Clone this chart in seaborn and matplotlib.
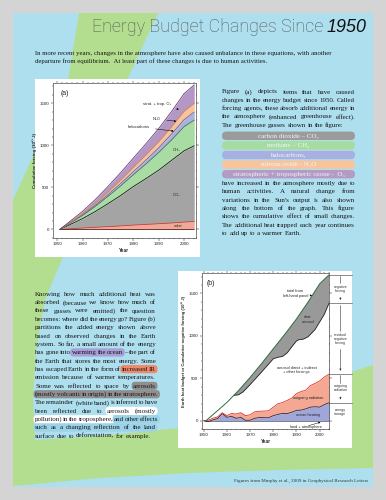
import matplotlib
matplotlib.use("Agg")
import matplotlib.pyplot as plt
import matplotlib.transforms as mtrans
from matplotlib.patches import Polygon, Rectangle, FancyBboxPatch
from matplotlib.font_manager import FontProperties
from matplotlib.ticker import MultipleLocator
import numpy as np
import pandas as pd
import seaborn as sns

W, H = 386, 500

# panel (a): cumulative forcing of each agent, 10^21 J (stacked bottom -> top)
years_a = [1951, 1955, 1960, 1965, 1970, 1975, 1980, 1985, 1990, 1995, 2000, 2004]
solar = [0, 8, 17, 26, 33, 42, 52, 60, 68, 77, 88, 96]
co2 = [0, 49, 112, 187, 273, 361, 458, 545, 637, 743, 847, 899]
ch4 = [0, 16, 37, 60, 87, 115, 140, 175, 210, 242, 287, 305]
halocarbons = [0, 4, 8, 14, 20, 28, 36, 45, 55, 70, 83, 96]
n2o = [0, 5, 12, 21, 30, 40, 51, 62, 73, 86, 100, 104]
ozone = [0, 13, 29, 47, 67, 89, 111, 133, 157, 182, 210, 220]

# panel (b): earth heat budget, 10^21 J
years_b = [1950, 1952, 1954, 1956, 1958, 1960, 1962, 1964, 1966, 1968, 1970, 1972, 1974, 1976,
           1978, 1980, 1982, 1984, 1986, 1988, 1990, 1992, 1994, 1996, 1998, 2000, 2002, 2004]
ocean_heating = [0, -10, 10, 25, 85, 40, 52, 28, 40, 5, 6, 28, 38, 36,
                 35, 60, 75, 86, 85, 100, 122, 125, 140, 160, 165, 160, 190, 212]
outgoing_top = [0, 5, 30, 45, 95, 60, 85, 80, 95, 60, 70, 105, 112, 114,
                118, 160, 200, 215, 240, 268, 320, 345, 360, 415, 440, 470, 515, 550]
strat_years = [1963, 1965, 1967, 1970, 1975, 1980, 1982, 1984, 1986, 1988, 1990, 1991,
               1993, 1995, 1998, 2000, 2002, 2004]
strat_lower = [299, 305, 340, 425, 575, 730, 748, 758, 800, 872, 940, 955,
               962, 990, 1075, 1165, 1255, 1385]

title_main = "Energy Budget Changes Since"
title_year = "1950"
intro_lines = [
    "In more recent years, changes in the atmosphere have also caused unbalance in these equations, with another",
    "departure from equilibrium.  At least part of these changes is due to human activities.",
]
right_lines_1 = [
    "Figure (a) depicts items that have caused",
    "changes in the energy budget since 1950. Called",
    "forcing agents, these absorb additional energy in",
    "the atmosphere (enhanced greenhouse effect).",
    "The greenhouse gasses shown in the figure:",
]
pill_labels = ["carbon dioxide – CO₂", "methane – CH₄", "halocarbons,",
               "nitrous oxide - N₂O", "stratospheric + tropospheric ozone -  O₃"]
pill_colors = ["#9b9b9b", "#a7dca0", "#a9b0e0", "#f7c49c", "#b49bc6"]
right_lines_2 = [
    "have increased in the atmosphere mostly due to",
    "human activities. A natural change from",
    "variations in the Sun's output is also shown",
    "along the bottom of the graph. This figure",
    "shows the cumulative effect of small changes.",
    "The additional heat trapped each year continues",
    "to add up to a warmer Earth.",
]
left_lines = [
    "Knowing how much additional heat was",
    "absorbed (because we know how much of",
    "these gasses were emitted) the question",
    "becomes: where did the energy go? Figure (b)",
    "partitions the added energy shown above",
    "based on observed changes in the Earth",
    "system.  So far, a small amount of the energy",
    "has gone into warming the ocean – the part of",
    "the Earth that stores the most energy.  Some",
    "has escaped Earth in the form of increased IR",
    "emission because of warmer temperatures.",
    "Some was reflected to space by aerosols",
    "(mostly volcanic in origin) in the stratosphere.",
    "The remainder (white band) is inferred to have",
    "been reflected due to aerosols (mostly",
    "pollution) in the troposphere, and other effects",
    "such as a changing reflection of the land",
    "surface due to deforestation, for example.",
]
# (line, first word, last word, colour)
left_marks = [(7, 3, 5, "#a89fd8"), (9, 7, 8, "#f0886b"), (11, 6, 6, "#8f8f8f"),
              (12, 0, 6, "#8f8f8f"), (14, 4, 5, "#ffffff"), (15, 0, 3, "#ffffff"),
              (15, 4, 6, "#9dd3e9"), (16, 0, 7, "#9dd3e9")]
band_labels = ["negative\nforcing", "residual\nnegative\nforcing", "outgoing\nradiation", "energy\nstorage"]
footer = "Figures from Murphy et al., 2009 in Geophysical Research Letters"

sns.set_theme(style="ticks", rc={"axes.linewidth": 0.4, "axes.edgecolor": "#222222"})
plt.rcParams["font.family"] = ["Liberation Sans", "DejaVu Sans"]

BLUE, GREEN, INK = "#aedfee", "#b4de8f", "#151515"
SERIF = ["Liberation Serif", "DejaVu Serif"]
BODY = FontProperties(family="Liberation Serif", size=5.0)
INTRO = FontProperties(family="Liberation Serif", size=4.85)

fig = plt.figure(figsize=(W / 100, H / 100), dpi=100, facecolor="#d4d4d4")
px = mtrans.Affine2D().scale(1, -1).translate(0, H)  # image pixels, y down
renderer = fig.canvas.get_renderer()


def text_w(s, prop=BODY):
    return renderer.get_text_width_height_descent(s, prop, ismath=False)[0]


# poster background
fig.add_artist(Rectangle((13, 13), 360, 474, transform=px, fc=BLUE, ec="none", zorder=-5))
green_pts = [(79, 13), (158, 13), (127, 80), (63, 257), (45, 300), (36, 350), (33, 400),
             (35, 440), (100, 436), (178, 428), (373, 365), (373, 468), (280, 470),
             (190, 473), (100, 478), (13, 486), (13, 200), (68, 80)]
fig.add_artist(Polygon(green_pts, closed=True, transform=px, fc=GREEN, ec="none", zorder=-4))
fig.add_artist(Rectangle((35, 79), 165, 178, transform=px, fc="white", ec="none", zorder=-3))
fig.add_artist(Rectangle((178, 271), 174, 177, transform=px, fc="white", ec="none", zorder=-3))

# title
year_prop = FontProperties(family="Liberation Sans", style="italic", size=12.9)
main_prop = FontProperties(family="Roboto", weight="light", size=12.9)
fig.text(367, 32, title_year, transform=px, fontproperties=year_prop, color="#111111",
         ha="right", va="baseline")
fig.text(367 - text_w(title_year, year_prop) - 4, 32, title_main, transform=px,
         fontproperties=main_prop, color="#555555", ha="right", va="baseline")

for k, line in enumerate(intro_lines):
    fig.text(35, 53.3 + 8.4 * k + 1.8, line, transform=px, fontproperties=INTRO, color=INK,
             ha="left", va="baseline")


def place_lines(lines, x0, x1, y0, dy, marks=()):
    space = text_w("n n") - text_w("nn")
    spans = {}
    for i, line in enumerate(lines):
        words = line.split()
        widths = [text_w(w) for w in words]
        y = y0 + i * dy
        gap = space
        if i < len(lines) - 1 and len(words) > 1:
            gap = max((x1 - x0 - sum(widths)) / (len(words) - 1), 0.4 * space)
        x = x0
        for j, (w, wd) in enumerate(zip(words, widths)):
            fig.text(x, y + 1.8, w, transform=px, fontproperties=BODY, color=INK,
                     ha="left", va="baseline", zorder=6)
            spans[i, j] = (x, x + wd)
            x += wd + gap
    for i, a, b, col in marks:
        xa, xb = spans[i, a][0] - 1.5, spans[i, b][1] + 1.5
        yc = y0 + i * dy
        fig.add_artist(FancyBboxPatch((xa, yc - 4.1), xb - xa, 8.2, transform=px,
                                      boxstyle="round,pad=0,rounding_size=3.5",
                                      fc=col, ec="none", zorder=5))


place_lines(right_lines_1, 222, 355, 91.7, 8.33)
place_lines(right_lines_2, 222, 355, 183.3, 8.33)
place_lines(left_lines, 35, 156, 294, 8.35, marks=left_marks)

for k, (lab, col) in enumerate(zip(pill_labels, pill_colors)):
    yc = 135.8 + k * 9.6
    fig.add_artist(FancyBboxPatch((222, yc - 4.2), 133, 8.4, transform=px,
                                  boxstyle="round,pad=0,rounding_size=4.2",
                                  fc=col, ec="none", zorder=5))
    fig.text(288.5, yc + 1.8, lab, transform=px, family=SERIF, size=5.0, color="#f4f4f4",
             ha="center", va="baseline", zorder=6)

fig.text(368, 482, footer, transform=px, family=SERIF, size=3.6, color="#333333",
         ha="right", va="baseline")


def style_axes(ax):
    ax.xaxis.set_major_locator(MultipleLocator(10))
    ax.xaxis.set_minor_locator(MultipleLocator(2))
    ax.yaxis.set_major_locator(MultipleLocator(500))
    ax.yaxis.set_minor_locator(MultipleLocator(100))
    ax.tick_params(which="both", direction="out", top=True, right=True, width=0.35,
                   labelsize=3.2, pad=1, colors="#222222")
    ax.tick_params(which="major", length=1.8)
    ax.tick_params(which="minor", length=1.0)
    ax.set_facecolor("white")


# ---------- panel (a) ----------
ax_a = fig.add_axes([53.3 / W, 1 - 238.3 / H, 142.2 / W, 155.6 / H])
df_a = pd.DataFrame({"year": years_a, "solar": solar, "CO2": co2, "CH4": ch4,
                     "halocarbons": halocarbons, "N2O": n2o, "O3": ozone})
layers = ["solar", "CO2", "CH4", "halocarbons", "N2O", "O3"]
fills = ["#f2a898", "#a4a4a4", "#a9dca3", "#a9b1e0", "#f8c39a", "#b497c4"]
edges = ["#d9392f", "#1a1a1a", "#3f7f3f", "#5b65b0", "#e0893f", "#6a3d7a"]
tops = df_a[layers].cumsum(axis=1)
ax_a.stackplot(df_a["year"], *[df_a[c] for c in layers], colors=fills, linewidth=0)
for c, ec in zip(layers, edges):
    sns.lineplot(x=df_a["year"], y=tops[c], ax=ax_a, color=ec, linewidth=0.6)
ax_a.hlines(0, years_a[0], years_a[-1], color="#5a2a1a", linewidth=0.6)
ax_a.set_xlim(1948.5, 2004.5)
ax_a.set_ylim(-105, 1745)
style_axes(ax_a)
ax_a.set_xlabel("Year", fontsize=3.4, fontweight="bold", labelpad=1.5)
ax_a.set_ylabel("Cumulative forcing (10²¹ J)", fontsize=3.2, fontweight="bold", labelpad=2)
ax_a.text(1951.5, 1600, "(a)", fontsize=5)
arr = dict(arrowstyle="-|>", lw=0.35, color="black", mutation_scale=2.5)
ax_a.annotate("strat. + trop. O₃", xy=(1999, 1420), xytext=(1989.5, 1490), fontsize=3,
              ha="center", va="center", arrowprops=arr)
ax_a.annotate("N₂O", xy=(1998, 1283), xytext=(1989.2, 1313), fontsize=3,
              ha="center", va="center", arrowprops=arr)
ax_a.annotate("halocarbons", xy=(1997, 1165), xytext=(1982, 1221), fontsize=3,
              ha="center", va="center", arrowprops=arr)
ax_a.text(1997, 944, "CH₄", fontsize=3, ha="center", va="center")
ax_a.text(1997, 408, "CO₂", fontsize=3, ha="center", va="center")
ax_a.text(1997.8, 43, "solar", fontsize=3, ha="center", va="center")

# ---------- panel (b) ----------
ax_b = fig.add_axes([202 / W, 1 - 429.3 / H, 127 / W, 156 / H])
total = tops["O3"].tolist()
ax_b.fill_between(years_b, 0, ocean_heating, color="#9fa7d9", linewidth=0)
ax_b.fill_between(years_b, ocean_heating, outgoing_top, color="#f4a792", linewidth=0)
gx = [strat_years[0]] + [y for y in years_a if y > strat_years[0]]
gy = [strat_lower[0]] + [t for y, t in zip(years_a, total) if y > strat_years[0]]
ax_b.fill(gx + strat_years[::-1], gy + strat_lower[::-1], color="#999999", linewidth=0)
sns.lineplot(x=years_b, y=ocean_heating, ax=ax_b, color="#2e2e50", linewidth=0.6)
sns.lineplot(x=years_b, y=outgoing_top, ax=ax_b, color="#e0352b", linewidth=0.6)
sns.lineplot(x=strat_years, y=strat_lower, ax=ax_b, color="#1a1a1a", linewidth=0.6)
sns.lineplot(x=years_a, y=total, ax=ax_b, color="#2f6e3c", linewidth=0.7)
ax_b.hlines(0, years_b[0], years_b[-1], color="#333333", linewidth=0.4)
ax_b.set_xlim(1949.3, 2004.0)
ax_b.set_ylim(-101, 1738)
style_axes(ax_b)
ax_b.set_xlabel("Year", fontsize=3.4, fontweight="bold", labelpad=1.5)
ax_b.set_ylabel("Earth heat budget or Cumulative negative forcing (10²¹ J)",
                fontsize=3.0, fontweight="bold", labelpad=2)
ax_b.text(1951.3, 1600, "(b)", fontsize=5)
ax_b.annotate("total from\nleft-hand panel", xy=(1996.7, 1475), xytext=(1989.5, 1500),
              fontsize=2.8, ha="center", va="center", arrowprops=arr)
ax_b.text(1995, 1190, "strat.\naerosol", fontsize=2.8, ha="center", va="center")
ax_b.text(1990, 600, "aerosol direct + indirect\n+ other forcings", fontsize=2.8,
          ha="center", va="center")
ax_b.text(1995, 268, "outgoing radiation", fontsize=2.8, ha="center", va="center")
ax_b.text(1995, 70, "ocean heating", fontsize=2.8, ha="center", va="center")
ax_b.annotate("land + atmosphere", xy=(2001.5, -8), xytext=(1994, -68), fontsize=2.8,
              ha="center", va="center", arrowprops=arr)

# energy-budget column to the right of panel (b)
col = mtrans.blended_transform_factory(ax_b.transAxes, ax_b.transData)
band_edges = [total[-1], strat_lower[-1], outgoing_top[-1], ocean_heating[-1], 0]
for yv in band_edges[:-1]:
    ax_b.plot([1.0, 1.18], [yv, yv], transform=col, color="#333333", lw=0.4, clip_on=False)
for k, lab in enumerate(band_labels):
    hi, lo = band_edges[k], band_edges[k + 1]
    mid = (hi + lo) / 2
    half = 28 * (lab.count("\n") + 1)
    ax_b.text(1.09, mid, lab, transform=col, fontsize=2.6, ha="center", va="center",
              color="#333333", linespacing=1.0)
    if hi - lo > 2 * half + 120:
        ax_b.plot([1.09, 1.09], [hi - 15, mid + half + 10], transform=col, color="#333333",
                  lw=0.4, clip_on=False)
        ax_b.annotate("", xy=(1.09, lo + 5), xytext=(1.09, mid - half - 10), xycoords=col,
                      textcoords=col, arrowprops=dict(arrowstyle="-|>", lw=0.4,
                                                      color="#333333", mutation_scale=2.5))

fig.savefig("out.png", dpi=100, facecolor=fig.get_facecolor())
